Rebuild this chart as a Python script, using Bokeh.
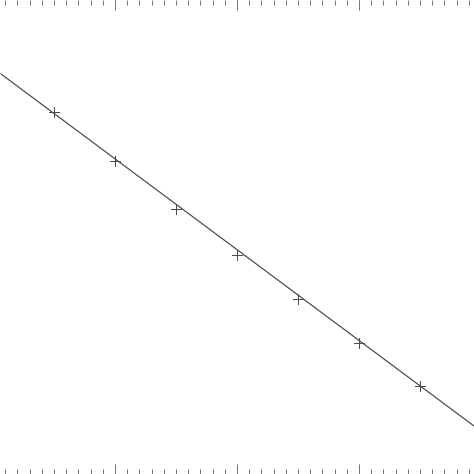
from bokeh.plotting import figure
from bokeh.models import LinearAxis, Range1d, SingleIntervalTicker, CustomLabelingPolicy
from bokeh.embed import file_html
from bokeh.resources import INLINE

# measured points and fitted line
x_pts = [0.5, 1.0, 1.5, 2.0, 2.5, 3.0, 3.5]
y_pts = [3.62, 3.13, 2.65, 2.19, 1.75, 1.31, 0.88]
fit_x = [0.0, 4.0]
fit_y = [4.06, 0.43]

GREY = '#4a4a4a'
TICK_GREY = '#777777'

p = figure(frame_width=474, frame_height=474, min_border=0,
           x_range=Range1d(0.057, 3.943), y_range=Range1d(0, 4.74),
           x_axis_location=None, y_axis_location=None,
           toolbar_location=None, output_backend="svg")
p.grid.visible = False
p.outline_line_color = None
p.background_fill_color = 'white'
p.border_fill_color = 'white'

# ticks only, no labels
no_labels = CustomLabelingPolicy(code="for (const i of indices) indices.unset(i)")

for side in ("above", "below"):
    axis = LinearAxis(ticker=SingleIntervalTicker(interval=1, num_minor_ticks=10))
    axis.axis_line_color = None
    axis.major_tick_in = 10
    axis.major_tick_out = 0
    axis.minor_tick_in = 5
    axis.minor_tick_out = 0
    axis.major_tick_line_color = TICK_GREY
    axis.minor_tick_line_color = TICK_GREY
    axis.major_label_policy = no_labels
    axis.major_label_text_font_size = '0px'
    axis.major_label_standoff = 0
    p.add_layout(axis, side)

p.line(fit_x, fit_y, line_color=GREY, line_width=1.2)
p.scatter(x_pts, y_pts, marker='cross', size=11, line_color=GREY,
          line_width=1)

open("out.html", "w").write(file_html(p, INLINE))
